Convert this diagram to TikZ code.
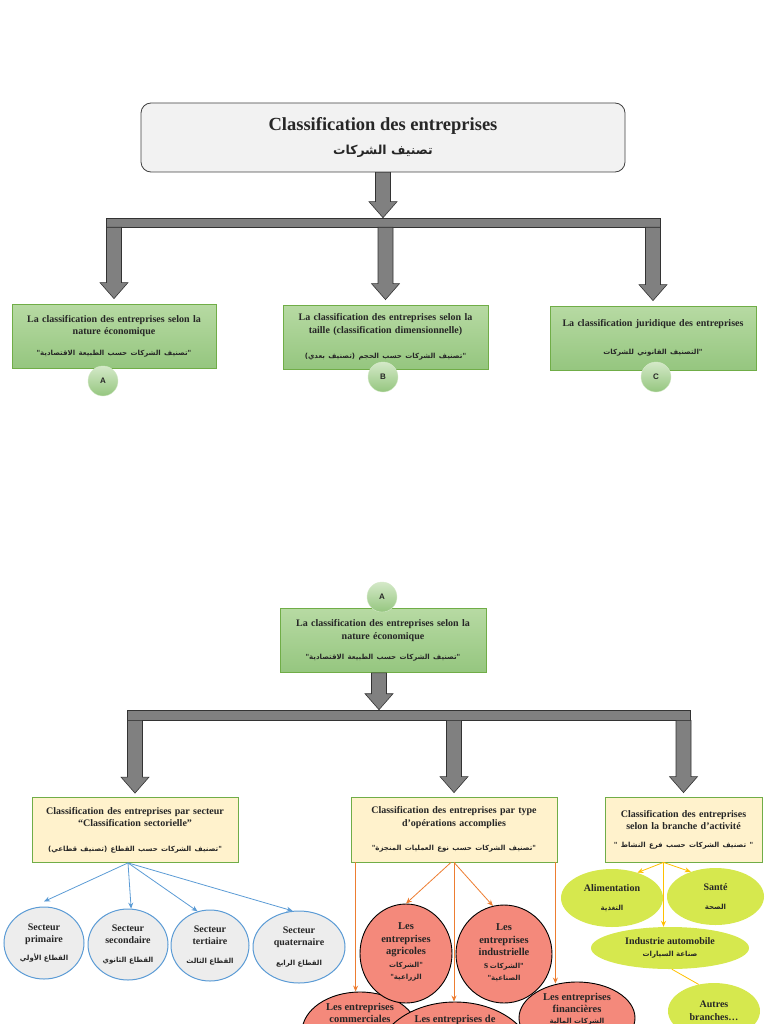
\documentclass[tikz,border=0pt]{standalone}
\usepackage{fontspec}
\setmainfont{Liberation Serif}
\newfontfamily\arabicf[Script=Arabic]{DejaVu Sans}
\newfontfamily\lettersf{Liberation Sans}
\TeXXeTstate=1
\usetikzlibrary{calc,arrows.meta,shapes.geometric}
\definecolor{gtop}{HTML}{B7DAA3}
\definecolor{gbot}{HTML}{95C67F}
\definecolor{gborder}{HTML}{70AD47}
\definecolor{yfill}{HTML}{FFF2CC}
\definecolor{ellgray}{HTML}{EDEDED}
\definecolor{eblue}{HTML}{5B9BD5}
\definecolor{salmon}{HTML}{F4897B}
\definecolor{lime}{HTML}{D6E84E}
\definecolor{aorange}{HTML}{ED7D31}
\definecolor{ayellow}{HTML}{FFC000}
\definecolor{fatgray}{HTML}{808080}
\definecolor{titlefill}{HTML}{F2F2F2}
\definecolor{ink}{HTML}{262626}
\newcommand\bodyf{\bfseries\fontsize{10}{12.5}\selectfont}
\newcommand\arf{\arabicf\bfseries\fontsize{7}{10}\selectfont}
\newcommand\AR[1]{{\arf\beginR #1\endR}}
\newcommand\fatarrow[2]{%
  \filldraw[fatstyle] let \p1=#1, \p2=#2 in
   (\x1-7.5pt,\y1) -- (\x1-7.5pt,\y2+16pt) -- (\x1-14pt,\y2+16pt) -- (\x1,\y2)
   -- (\x1+14pt,\y2+16pt) -- (\x1+7.5pt,\y2+16pt) -- (\x1+7.5pt,\y1) -- cycle;}
\begin{document}
\begin{tikzpicture}[x=1pt,y=-1pt,
  every node/.style={text=ink},
  titlebox/.style={draw=black!75, fill=titlefill, rounded corners=10pt, minimum width=484pt,
    minimum height=69pt, align=center, line width=0.8pt},
  gbox/.style={draw=gborder, top color=gtop, bottom color=gbot, minimum height=64pt,
    align=center, font=\bodyf, inner sep=3pt, line width=0.8pt},
  ybox/.style={draw=gborder, fill=yfill, minimum height=65pt, align=center, font=\bodyf,
    inner sep=3pt, line width=0.8pt},
  letter/.style={circle, draw=gtop!60!white, top color=gtop!60!white, bottom color=gbot,
    minimum size=30pt, inner sep=0pt, font=\lettersf\bfseries\fontsize{8}{9}\selectfont},
  gell/.style={ellipse, draw=eblue, fill=ellgray, line width=1pt, inner sep=0pt,
    align=center, font=\bodyf},
  rell/.style={ellipse, draw=black, fill=salmon, line width=0.9pt, inner sep=0pt},
  rtext/.style={align=center, font=\bfseries\fontsize{10.5}{12.5}\selectfont, inner sep=0pt},
  lell/.style={ellipse, fill=lime, inner sep=0pt, align=center, font=\bodyf},
  fatbar/.style={draw=black!80, fill=fatgray, line width=0.6pt, inner sep=0pt},
  fatstyle/.style={draw=black!80, fill=fatgray, line width=0.6pt},
  barr/.style={draw=eblue, line width=0.8pt, -{Stealth[length=6pt,width=5pt]}},
  oarr/.style={draw=aorange, line width=0.8pt, -{Stealth[length=6pt,width=5pt]}},
  yarr/.style={draw=ayellow, line width=0.8pt, -{Stealth[length=6pt,width=5pt]}},
  yline/.style={draw=ayellow, line width=0.8pt}]
\useasboundingbox (0,0) rectangle (768,1024);
\clip (0,0) rectangle (768,1024);

% ---------- top part ----------
\node[titlebox] (title) at (383,137.5)
  {{\bfseries\fontsize{18.5}{22}\selectfont Classification des entreprises}\\[9pt]
   {\arabicf\bfseries\fontsize{12.4}{16}\selectfont\beginR تصنيف الشركات\endR}};
\node[fatbar, minimum width=554pt, minimum height=9pt] (bar1) at (383,222.5) {};
\fatarrow{(title.south)}{(bar1.north)}

\node[gbox, text width=198pt] (boxA) at (114,336)
  {La classification des entreprises selon la\\ nature économique\\[8pt]
   \AR{"تصنيف الشركات حسب الطبيعة الاقتصادية"}};
\node[gbox, text width=199pt] (boxB) at (385.5,337)
  {La classification des entreprises selon la\\ taille (classification dimensionnelle)\\[13pt]
   \AR{"تصنيف الشركات حسب الحجم (تصنيف بعدي)}};
\node[gbox, text width=200pt] (boxC) at (653,338)
  {La classification juridique des entreprises\\[15pt]
   \AR{"التصنيف القانوني للشركات}};
\fatarrow{(boxA.north |- bar1.south)}{($(boxA.north)+(0,-5)$)}
\fatarrow{(boxB.north |- bar1.south)}{($(boxB.north)+(0,-5)$)}
\fatarrow{(boxC.north |- bar1.south)}{($(boxC.north)+(0,-5)$)}
\node[letter] (cA) at (103,381) {A};
\node[letter] (cB) at (383,377) {B};
\node[letter] (cC) at (656,377) {C};

% ---------- second part ----------
\node[gbox, text width=200pt] (A2) at (383,640.5)
  {La classification des entreprises selon la\\ nature économique\\[8pt]
   \AR{"تصنيف الشركات حسب الطبيعة الاقتصادية"}};
\node[letter] (cA2) at (382,597) {A};
\node[fatbar, minimum width=563pt, minimum height=10pt] (bar2) at (408.5,715) {};
\fatarrow{($(A2.south)+(-4,0)$)}{(bar2.north)}

\node[ybox, text width=200pt] (Y1) at (135,830)
  {Classification des entreprises par secteur\\ “Classification sectorielle”\\[12pt]
   \AR{"تصنيف الشركات حسب القطاع (تصنيف قطاعي)}};
\node[ybox, text width=200pt] (Y2) at (454,829.5)
  {Classification des entreprises par type\\ d’opérations accomplies\\[12pt]
   \AR{"تصنيف الشركات حسب نوع العمليات المنجزة"}};
\node[ybox, text width=151pt] (Y3) at (683.5,829.5)
  {Classification des entreprises\\ selon la branche d’activité\\[5pt]
   \AR{" تصنيف الشركات حسب فرع النشاط "}};
\fatarrow{(Y1.north |- bar2.south)}{($(Y1.north)+(0,-4)$)}
\fatarrow{(Y2.north |- bar2.south)}{($(Y2.north)+(0,-4)$)}
\fatarrow{(Y3.north |- bar2.south)}{($(Y3.north)+(0,-4)$)}

% secteurs
\node[gell, minimum width=80pt, minimum height=72pt] (E1) at (44,943)
  {Secteur\\ primaire\\[5pt] \AR{القطاع الأولي}};
\node[gell, minimum width=80pt, minimum height=71pt] (E2) at (128,944.5)
  {Secteur\\ secondaire\\[6pt] \AR{القطاع الثانوي}};
\node[gell, minimum width=78pt, minimum height=71pt] (E3) at (210,945.5)
  {Secteur\\ tertiaire\\[6pt] \AR{القطاع الثالث}};
\node[gell, minimum width=92pt, minimum height=72pt] (E4) at (299,947)
  {Secteur\\ quaternaire\\[7pt] \AR{القطاع الرابع}};
\coordinate (bs) at ($(Y1.south)+(-7,0)$);
\draw[barr] (bs) -- ($(E1.north)+(0,-5)$);
\draw[barr] (bs) -- (E2.85);
\draw[barr] (bs) -- (E3.110);
\draw[barr] (bs) -- (E4.100);

% types d'operations
\node[rell, minimum width=116pt, minimum height=80pt] (com) at (360,1032) {};
\node[rtext] (comt) at (360,1013) {Les entreprises\\ commerciales};
\node[rell, minimum width=116pt, minimum height=72pt] (fin) at (577,1018) {};
\node[rtext] (fint) at (577,1009) {Les entreprises\\ financières\\[-2pt] \AR{الشركات المالية}};
\node[rell, minimum width=158pt, minimum height=116pt] (de) at (455,1060) {};
\node[rtext] (det) at (455,1020) {Les entreprises de};
\node[rell, minimum width=92pt, minimum height=99pt] (agr) at (406,953.5) {};
\node[rtext] (agrt) at (406,952)
  {Les\\ entreprises\\ agricoles\\ \AR{"الشركات}\\ \AR{الزراعية"}};
\node[rell, minimum width=96pt, minimum height=98pt] (ind) at (504,954) {};
\node[rtext] (indt) at (504,953)
  {Les\\ entreprises\\ industrielle\\ s\,\AR{"الشركات}\\ \AR{الصناعية"}};
\coordinate (os) at (Y2.south);
\coordinate (o1) at ($(Y2.south west)+(5,0)$);
\coordinate (o3) at ($(Y2.south east)+(-2,0)$);
\draw[oarr] ($(os)+(-3,0)$) -- (agr.north);
\draw[oarr] (os) -- (ind.103);
\draw[oarr] (o1) -- (o1 |- com.north);
\draw[oarr] (os) -- (os |- de.north);
\draw[oarr] (o3) -- ($(o3 |- fin.north)+(0,2)$);

% branches
\node[lell, minimum width=102pt, minimum height=58pt] (alim) at (612,898)
  {Alimentation\\[7pt] \AR{التغذية}};
\node[lell, minimum width=97pt, minimum height=57pt] (sante) at (715.5,896.5)
  {Santé\\[7pt] \AR{الصحة}};
\node[lell, minimum width=158pt, minimum height=42pt] (auto) at (670,948)
  {Industrie automobile\\[-1pt] \AR{صناعة السيارات}};
\node[lell, minimum width=92pt, minimum height=56pt] (autres) at (714,1011)
  {Autres\\ branches…};
\coordinate (ys) at ($(Y3.south)+(-20,0)$);
\draw[yarr] (ys) -- (alim.45);
\draw[yarr] (ys) -- (sante.135);
\draw[yarr] (ys) -- (ys |- auto.north);
\draw[yline] (auto.-85) -- (autres.120);
\end{tikzpicture}
\end{document}
